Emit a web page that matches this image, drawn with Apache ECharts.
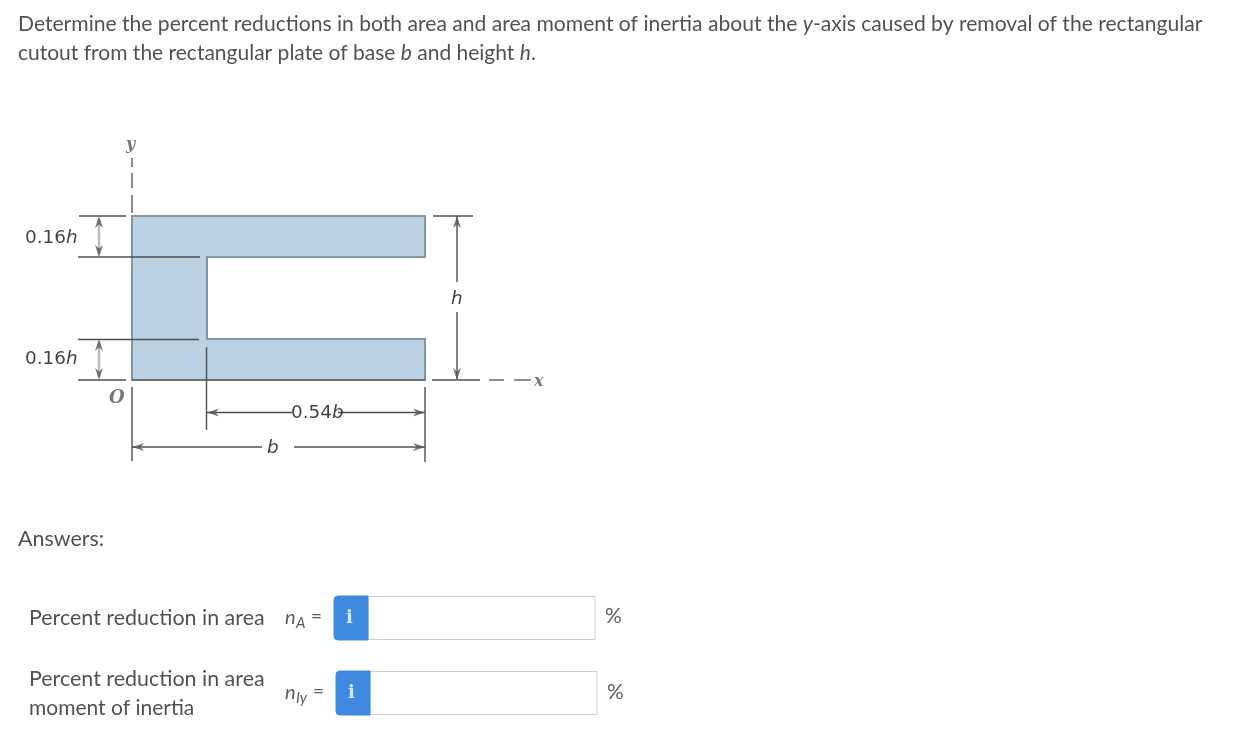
<!DOCTYPE html>
<html><head><meta charset="utf-8">
<script src="https://cdn.jsdelivr.net/npm/echarts@6/dist/echarts.min.js"></script>
<style>html,body{margin:0;padding:0;background:#fff}#c{width:1244px;height:750px}</style>
</head><body><div id="c"></div>
<script>
// Diagram geometry, in the units of the two hidden axes
const plateX = [132,425,425,207,207,425,425,132];
const plateY = [216,216,257,257,339,339,380,380];
const dimLines = [
 [79,216,126,216],[78,257,200,257],[78,339.5,199,339.5],[78,380,126,380],
 [132,387,132,461],[206.5,347,206.5,430],[425,387,425,462],
 [207,412.5,292,412.5],[338,412.5,425,412.5],
 [132,447,262,447],[294,447,425,447],
 [433,216,473,216],[457,216,457,282],[457,312,457,379],[432,380,480,380]
];
const bottomEdge = [[132,380,425,380]];
const axisDashes = [[132,158,132,167],[132,173,132,188],[132,195,132,213],[489,380,504,380],[514,380,531,380]];
const lightDims = [[99,219,99,254],[99,342,99,377]];
const arrowsUp = [[99,222],[99,345],[457,222]];
const arrowsDown = [[99,251],[99,374],[457,374]];
const arrowsLeft = [[213,412.5],[138,447]];
const arrowsRight = [[419,412.5],[419,447]];
const infoButtons = [[334,596,368,640],[336,671,370,715]];
const inputBoxes = [[368,596.5,595,639.5],[370,671.5,597,714.5]];
const labels = [
 [18,24,'{t1|Determine the percent reductions in both area and area moment of inertia about the }{t1i|y}{t1|-axis caused by removal of the rectangular}'],
 [18,53,'{t|cutout from the rectangular plate of base }{ti|b}{t| and height }{ti|h}{t|.}'],
 [25,238,'{d|0.16}{di|h}'],[25,359,'{d|0.16}{di|h}'],
 [291,413,'{d|0.54}{di|b}'],[267,448,'{di|b}'],[451,299,'{di|h}'],
 [126,145,'{s|y}'],[109,398,'{so|O}'],[534,382,'{s|x}'],
 [18,539,'{a|Answers:}'],
 [29,618,'{a|Percent reduction in area}'],
 [29,679,'{a|Percent reduction in area}'],
 [29,708,'{t|moment of inertia}'],
 [285,618,'{n|n}'],[296,623,'{sub|A}'],[311,617,'{eq|=}'],
 [285,693,'{n|n}'],[296,698,'{sub|Iy}'],[313,692,'{eq|=}'],
 [605,616,'{p|%}'],[607,692,'{p|%}'],
 [346,618,'{b|i}'],[348,693,'{b|i}']
];

const rich = {
 t1:{fontFamily:'Lato',fontSize:21.1,color:'#262626'},
 t1i:{fontFamily:'Lato',fontSize:21.1,fontStyle:'italic',color:'#262626'},
 t:{fontFamily:'Lato',fontSize:21,color:'#262626'},
 ti:{fontFamily:'Lato',fontSize:21,fontStyle:'italic',color:'#262626'},
 a:{fontFamily:'Lato',fontSize:21.45,color:'#262626'},
 d:{fontFamily:'DejaVu Sans',fontSize:18.4,color:'#111'},
 di:{fontFamily:'DejaVu Sans',fontSize:18.4,fontStyle:'italic',color:'#111'},
 s:{fontFamily:'DejaVu Serif',fontSize:16,fontStyle:'italic',fontWeight:'bold',color:'#555'},
 so:{fontFamily:'DejaVu Serif',fontSize:18,fontStyle:'italic',fontWeight:'bold',color:'#555'},
 n:{fontFamily:'Lato',fontSize:20,fontStyle:'italic',color:'#333'},
 sub:{fontFamily:'Lato',fontSize:15,fontStyle:'italic',color:'#333'},
 eq:{fontFamily:'Lato',fontSize:19,color:'#333'},
 p:{fontFamily:'Lato',fontSize:21,color:'#333'},
 b:{fontFamily:'DejaVu Serif',fontSize:18,fontWeight:'bold',color:'#fff'}
};

function segSeries(data,color,width){
 return {type:'custom',coordinateSystem:'cartesian2d',silent:true,data:data,
  renderItem:(p,api)=>{
   const a=api.coord([api.value(0),api.value(1)]),b=api.coord([api.value(2),api.value(3)]);
   return {type:'line',shape:{x1:a[0],y1:a[1],x2:b[0],y2:b[1]},style:{stroke:color,lineWidth:width}};
  }};
}
function rectSeries(data,fill,stroke,r){
 return {type:'custom',coordinateSystem:'cartesian2d',silent:true,data:data,
  renderItem:(p,api)=>{
   const a=api.coord([api.value(0),api.value(1)]),b=api.coord([api.value(2),api.value(3)]);
   return {type:'rect',shape:{x:a[0],y:a[1],width:b[0]-a[0],height:b[1]-a[1],r:r},style:{fill:fill,stroke:stroke,lineWidth:1}};
  }};
}
const arrowPath='path://M5 0 L10 14 L5 10 L0 14 Z';
function arrowSeries(data,rot){
 return {type:'scatter',silent:true,data:data,symbol:arrowPath,symbolSize:[8,12],symbolRotate:rot,
  itemStyle:{color:'#55595c'}};
}
const series=[
 {type:'custom',coordinateSystem:'cartesian2d',silent:true,data:[[0,0]],
  renderItem:(p,api)=>({type:'polygon',
   shape:{points:plateX.map((x,i)=>api.coord([x,plateY[i]]))},
   style:{fill:'#bad2e4',stroke:'#8497a3',lineWidth:2}})},
 segSeries(bottomEdge,'#5c6469',1.5),
 segSeries(lightDims,'#bcbcbc',2.5),
 segSeries(dimLines,'#4c5054',1.4),
 segSeries(axisDashes,'#5a5d60',1.4),
 arrowSeries(arrowsUp,0),arrowSeries(arrowsDown,180),arrowSeries(arrowsLeft,90),arrowSeries(arrowsRight,-90),
 rectSeries(inputBoxes,'#fff','#cfcfcf',0),
 rectSeries(infoButtons,'#3f8ae0','#3f8ae0',[4,0,0,4]),
 {type:'scatter',silent:true,symbolSize:0,data:labels.map(l=>({value:[l[0],l[1]],label:{formatter:l[2]}})),
  label:{show:true,position:'right',distance:0,rich:rich},z:10}
];
const chart=echarts.init(document.getElementById('c'),null,{renderer:'canvas'});
chart.setOption({animation:false,backgroundColor:'#fff',tooltip:{show:false},
 grid:{left:0,right:0,top:0,bottom:0},
 xAxis:{type:'value',min:0,max:1244,show:false},
 yAxis:{type:'value',min:0,max:750,inverse:true,show:false},
 series:series});
</script></body></html>
